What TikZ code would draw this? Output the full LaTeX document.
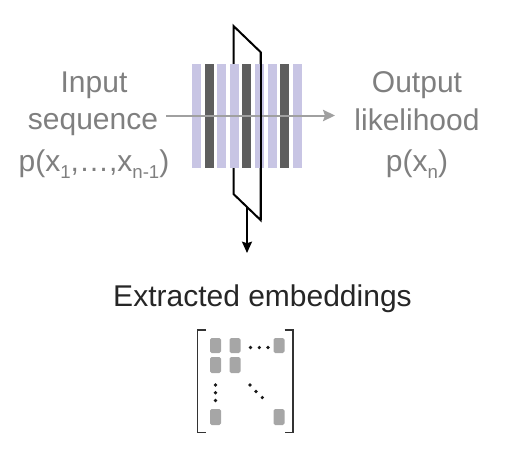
\documentclass[tikz,border=0pt]{standalone}
\usepackage{fontspec}
\setmainfont{Liberation Sans}
\usetikzlibrary{arrows.meta}
\definecolor{txtgray}{HTML}{7F7F7F}
\definecolor{lav}{HTML}{C8C5E4}
\definecolor{darkbar}{HTML}{5E5E5E}
\definecolor{sqgray}{HTML}{A6A6A6}
\definecolor{linegray}{HTML}{A0A0A0}
\newcommand{\mysub}[1]{\raisebox{-0.26em}{\fontsize{14}{14}\selectfont #1}}
\begin{document}
\begin{tikzpicture}[x=0.75pt,y=-0.75pt,
  lbl/.style={font=\fontsize{22.5}{27}\selectfont, text=txtgray, anchor=base, inner sep=0pt},
  blk/.style={font=\fontsize{22.5}{27}\selectfont, text=black!85, anchor=base, inner sep=0pt},
  plane/.style={draw=black, line width=1.5pt, line join=miter},
  flow/.style={draw=linegray, line width=1.5pt, -{Stealth[length=9pt,width=8.5pt,inset=1.5pt]}},
  down/.style={draw=black, line width=1.4pt, -{Stealth[length=8.5pt,width=7.5pt,inset=1.2pt]}},
  brk/.style={draw=black!80, line width=1.3pt},
  sq/.style={fill=sqgray, rounded corners=1.2pt},
  dot/.style={fill=black!90}]
\useasboundingbox (0,0) rectangle (510,464);

% plane (behind bars)
\coordinate (p1) at (233.5,26);
\coordinate (p2) at (260.5,52);
\coordinate (p3) at (260.5,220);
\coordinate (p4) at (233.5,194);
\draw[plane] (p1) -- (p2) -- (p3) -- (p4) -- cycle;

% bars
\foreach \i/\c in {0/lav,1/darkbar,2/lav,3/lav,4/darkbar,5/lav,6/lav,7/darkbar,8/lav}
  \fill[\c] ({192+12.6*\i},64) rectangle ++(9,104);

% flow line
\coordinate (hs) at (166,115.5);
\coordinate (he) at (335,115.5);
\draw[flow] (hs) -- (he);

% front edge of plane
\draw[plane] (p2) -- (p3);

% down arrow
\coordinate (as) at (247,207);
\coordinate (ae) at (247,253);
\draw[down] (as) -- (ae);

% input labels
\node[lbl] (in1) at (94,92) {Input};
\node[lbl] (in2) at (93,129) {sequence};
\node[lbl] (in3) at (94,171) {p(x\mysub{1},…,x\mysub{n-1})};

% output labels
\node[lbl] (out1) at (417,92) {Output};
\node[lbl] (out2) at (417,130) {likelihood};
\node[lbl] (out3) at (417,171) {p(x\mysub{n})};

% extracted
\node[blk] (emb) at (262.5,306.5) {Extracted embeddings};

% matrix brackets
\draw[brk] (206,330) -- (197.5,330) -- (197.5,432.5) -- (206,432.5);
\draw[brk] (284.5,330) -- (293,330) -- (293,432.5) -- (284.5,432.5);

% squares
\fill[sq] (210,338) rectangle (221,353);
\fill[sq] (229.5,338) rectangle (240.5,353);
\fill[sq] (273.5,338) rectangle (284.5,353);
\fill[sq] (210,357) rectangle (221,373);
\fill[sq] (229.5,357) rectangle (240.5,373);
\fill[sq] (210,409) rectangle (221,425);
\fill[sq] (273.5,409) rectangle (284.5,425);

% dots
\foreach \p in {(250.5,347.5),(259.3,347.5),(268,347.5),(215.5,385),(215.5,392.7),(215.5,400.5),(250,385),(256,391.5),(262.3,397.5)}
  \fill[dot] \p circle (1.8);
\end{tikzpicture}
\end{document}
